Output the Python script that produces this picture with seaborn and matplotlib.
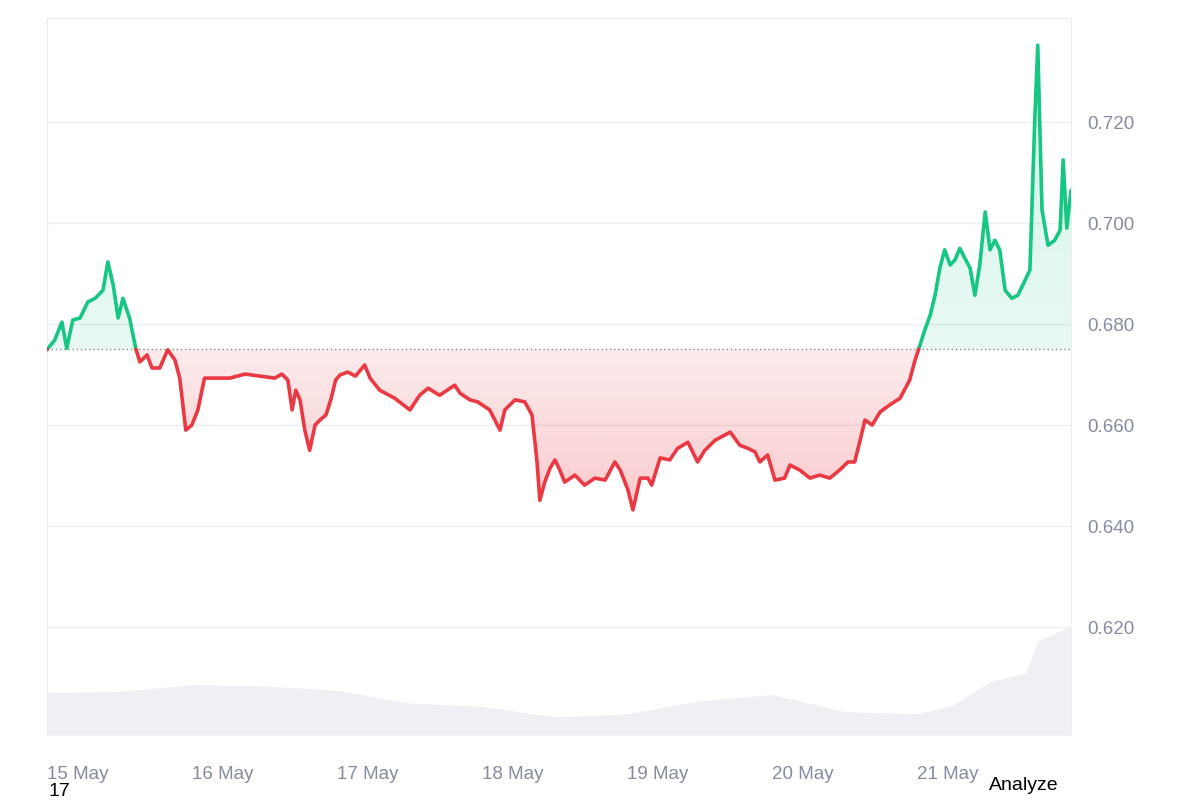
import numpy as np
import pandas as pd
import matplotlib.pyplot as plt
import seaborn as sns
from matplotlib.patches import Polygon

# hours since 15 May 00:00
hours = [0, 1.3, 2.5, 3.3, 4.3, 5.5, 6.8, 8.0, 9.3, 10.1, 11.0, 11.8, 12.6, 13.7, 14.7, 15.4, 16.6, 17.4,
         18.7, 20.0, 21.2, 22.0, 23.0, 24.0, 25.0, 26.1, 27.8, 30.3, 32.8, 35.3, 37.7, 38.9, 39.9, 40.6,
         41.2, 41.9, 42.7, 43.5, 44.4, 45.2, 46.2, 47.0, 47.8, 48.5, 49.8, 51.1, 52.6, 53.5, 55.1, 57.6,
         60.1, 61.7, 63.1, 65.0, 67.5, 68.4, 70.0, 71.3, 73.3, 75.0, 75.8, 77.5, 79.1, 80.3, 81.1, 81.6,
         82.4, 83.3, 84.1, 84.9, 85.7, 87.4, 89.0, 90.7, 92.4, 94.0, 94.9, 96.2, 97.0, 98.2, 99.5, 100.1,
         101.5, 103.1, 104.4, 106.1, 107.7, 108.9, 110.6, 113.1, 114.7, 116.0, 117.2, 118.0, 119.3, 120.5,
         122.1, 123.0, 124.6, 126.3, 127.9, 129.6, 131.2, 132.6, 133.7, 134.6, 135.4, 136.6, 137.9, 139.5,
         141.2, 142.8, 143.7, 144.5, 145.3, 146.2, 147.0, 147.8, 148.6, 149.5, 150.3, 151.1, 151.9, 152.8,
         153.6, 154.4, 155.3, 156.1, 156.9, 157.7, 158.6, 159.7, 160.7, 161.9, 162.7, 163.5, 164.0, 164.7,
         165.7, 166.8, 167.7, 168.2, 168.8, 169.5]
prices = [.6749, .6768, .6804, .6752, .6808, .6812, .6844, .6851, .6867, .6923, .6877, .6812, .6851, .6812,
          .6752, .6725, .6739, .6713, .6713, .6749, .6729, .6693, .6590, .6600, .6630, .6693, .6693, .6693,
          .6701, .6697, .6693, .6701, .6689, .6630, .6669, .6650, .6590, .6550, .6600, .6610, .6620, .6650,
          .6689, .6699, .6705, .6697, .6719, .6693, .6669, .6653, .6630, .6659, .6673, .6659, .6679, .6663,
          .6650, .6646, .6630, .6590, .6630, .6650, .6646, .6620, .6531, .6451, .6487, .6515, .6531, .6511,
          .6487, .6501, .6481, .6495, .6491, .6527, .6511, .6471, .6432, .6495, .6495, .6481, .6535, .6531,
          .6554, .6566, .6527, .6550, .6570, .6586, .6560, .6554, .6547, .6527, .6541, .6491, .6495, .6521,
          .6511, .6495, .6501, .6495, .6511, .6527, .6527, .6570, .6610, .6600, .6626, .6640, .6653, .6689,
          .6729, .6758, .6788, .6818, .6857, .6911, .6947, .6917, .6927, .6950, .6931, .6911, .6857, .6917,
          .7022, .6947, .6966, .6947, .6867, .6851, .6857, .6887, .6907, .7204, .7352, .7026, .6956, .6966,
          .6986, .7125, .6990, .7065]
baseline = 0.675

vol_hours = [0, 12, 24, 36, 48, 60, 72, 84, 96, 108, 120, 132, 144, 150, 156, 162, 164, 169.5]
volume = [40, 41, 47, 46, 42, 30, 27, 17, 20, 32, 38, 22, 20, 28, 50, 58, 88, 102]

day_ticks = [0, 24, 48, 72, 96, 120, 144]
day_labels = ["15 May", "16 May", "17 May", "18 May", "19 May", "20 May", "21 May"]

GREEN = "#16c784"
RED = "#ea3943"
GREY = "#858ca2"

sns.set_style("white")
plt.rcParams['font.family'] = ['Liberation Sans', 'DejaVu Sans']

fig = plt.figure(figsize=(12, 8), dpi=100)
vax = fig.add_axes([0.039, 0.081, 0.8535, 0.8965])
ax = fig.add_axes([0.039, 0.081, 0.8535, 0.8965])
ax.patch.set_alpha(0)

# volume in the background
vax.fill_between(vol_hours, volume, 0, color="#eef0f3", lw=0)
vax.set_xlim(0, 169.5)
vax.set_ylim(0, 670)
vax.set_xticks([])
vax.set_yticks([])
for s in vax.spines.values():
    s.set_visible(False)

x = np.array(hours)
y = np.array(prices)
# insert baseline crossings so colours split cleanly
xs, ys = [x[0]], [y[0]]
for i in range(1, len(x)):
    if (y[i - 1] - baseline) * (y[i] - baseline) < 0:
        t = (baseline - y[i - 1]) / (y[i] - y[i - 1])
        xs.append(x[i - 1] + t * (x[i] - x[i - 1]))
        ys.append(baseline)
    xs.append(x[i]); ys.append(y[i])
xs, ys = np.array(xs), np.array(ys)

ymin, ymax = 0.5986, 0.7406
ax.set_xlim(0, 169.5)
ax.set_ylim(ymin, ymax)

# gradient fills clipped to area polygons (rows top -> bottom)
n = 256
for above, col in [(True, GREEN), (False, RED)]:
    yy = np.maximum(ys, baseline) if above else np.minimum(ys, baseline)
    verts = np.column_stack([np.r_[xs, xs[::-1]], np.r_[yy, np.full(len(xs), baseline)]])
    poly = Polygon(verts, closed=True, facecolor="none", edgecolor="none")
    ax.add_patch(poly)
    rgb = np.array(plt.matplotlib.colors.to_rgb(col))
    if above:
        a = np.linspace(0.2, 0.1, n)
        ext = (0, 169.5, baseline, ymax)
    else:
        a = np.linspace(0.1, 0.5, n)
        ext = (0, 169.5, ymin, baseline)
    img = np.zeros((n, 2, 4))
    img[..., :3] = rgb
    img[..., 3] = a[:, None]
    im = ax.imshow(img, extent=ext, aspect="auto", origin="upper", zorder=1)
    im.set_clip_path(poly)

df = pd.DataFrame({"h": xs, "p": ys})
up = np.ma.masked_less(df["p"].values, baseline)
dn = np.ma.masked_greater(df["p"].values, baseline)
ax.plot(df["h"], up, color=GREEN, lw=2.6, zorder=3)
ax.plot(df["h"], dn, color=RED, lw=2.6, zorder=3)
ax.axhline(baseline, color="#8a8a8a", ls=(0, (1, 2)), lw=1, zorder=2)

ax.set_xlabel(""); ax.set_ylabel("")
ax.yaxis.tick_right()
ax.set_yticks([0.62, 0.64, 0.66, 0.68, 0.70, 0.72])
ax.set_yticklabels([f"{v:.3f}" for v in [0.62, 0.64, 0.66, 0.68, 0.70, 0.72]])
ax.tick_params(axis="y", length=0, pad=12, labelsize=13.5, labelcolor=GREY)
ax.grid(axis="y", color="#eceef1", lw=1)
ax.set_axisbelow(True)
ax.set_xticks(day_ticks)
ax.set_xticklabels(day_labels, ha="left")
ax.tick_params(axis="x", length=0, pad=22, labelsize=13.5, labelcolor=GREY)
for name, s in ax.spines.items():
    s.set_visible(name in ("left", "right", "top"))
    s.set_color("#eceef1")

fig.text(0.04, 0.005, "17", fontsize=14, color="black")
fig.text(0.882, 0.012, "Analyze", fontsize=14, color="black", ha="right")

fig.savefig("out.png", dpi=100)
